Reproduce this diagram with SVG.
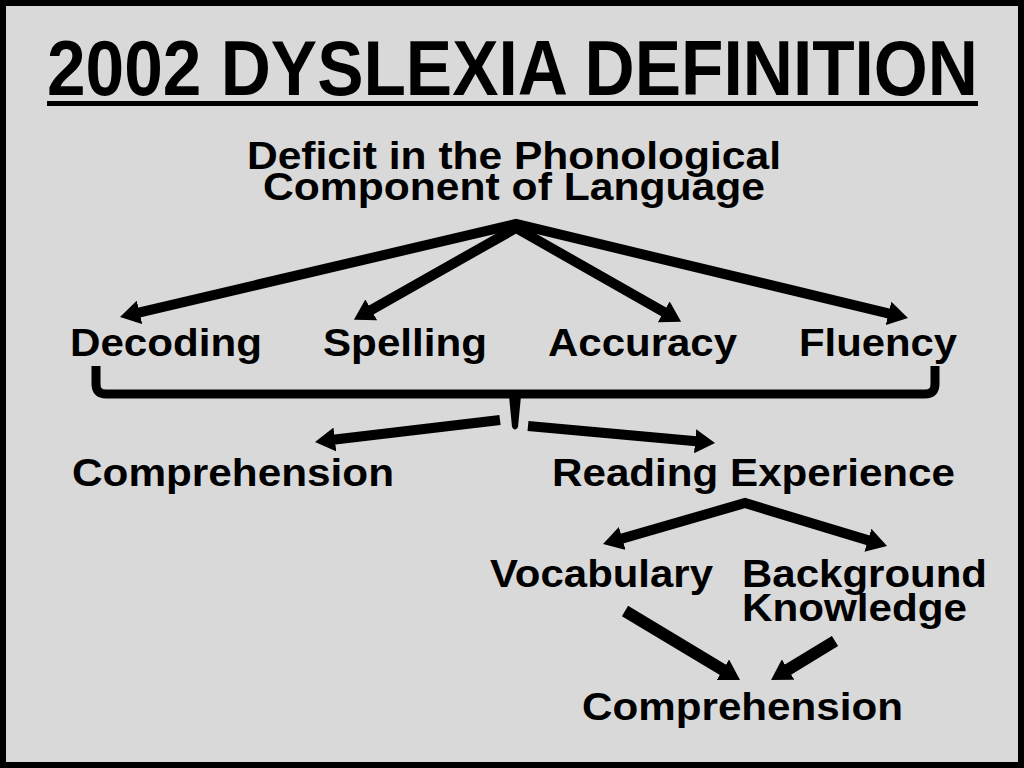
<svg xmlns="http://www.w3.org/2000/svg" width="1024" height="768" viewBox="0 0 1024 768">
<style>
  .t { font-family: "Liberation Sans", Arial, sans-serif; font-weight: bold; fill: #000; font-size: 39px; }
  .title { font-family: "Liberation Sans", Arial, sans-serif; font-weight: bold; fill: #000; font-size: 78px; }
  .arr { fill: none; stroke: #000; stroke-width: 10; stroke-linejoin: miter; stroke-miterlimit: 6; marker-end: url(#ah); }
  .arr2 { fill: none; stroke: #000; stroke-width: 10; stroke-linejoin: miter; stroke-miterlimit: 6; marker-start: url(#ah); marker-end: url(#ah); }
  .thick { stroke-width: 12; }
</style>
<defs>
  <marker id="ah" markerUnits="userSpaceOnUse" viewBox="0 0 20 24" markerWidth="20" markerHeight="24" refX="4" refY="12" orient="auto-start-reverse">
    <path d="M0,0 L20,12 L0,24 Z" fill="#000"/>
  </marker>
</defs>
<rect x="3" y="3" width="1018" height="762" fill="#d9d9d9" stroke="#000" stroke-width="6"/>

<g id="title">
  <text class="title" x="47" y="95" textLength="931" lengthAdjust="spacingAndGlyphs">2002 DYSLEXIA DEFINITION</text>
  <rect x="47" y="101" width="931" height="5" fill="#000"/>
</g>

<g id="node-deficit">
  <text class="t" x="247" y="169" textLength="534" lengthAdjust="spacingAndGlyphs">Deficit in the Phonological</text>
  <text class="t" x="263" y="200" textLength="502" lengthAdjust="spacingAndGlyphs">Component of Language</text>
</g>
<g id="node-decoding"><text class="t" x="70" y="356" textLength="192" lengthAdjust="spacingAndGlyphs">Decoding</text></g>
<g id="node-spelling"><text class="t" x="323" y="356" textLength="164" lengthAdjust="spacingAndGlyphs">Spelling</text></g>
<g id="node-accuracy"><text class="t" x="548" y="356" textLength="189" lengthAdjust="spacingAndGlyphs">Accuracy</text></g>
<g id="node-fluency"><text class="t" x="799" y="356" textLength="158" lengthAdjust="spacingAndGlyphs">Fluency</text></g>
<g id="node-comprehension1"><text class="t" x="72" y="486" textLength="322" lengthAdjust="spacingAndGlyphs">Comprehension</text></g>
<g id="node-reading"><text class="t" x="552" y="486" textLength="403" lengthAdjust="spacingAndGlyphs">Reading Experience</text></g>
<g id="node-vocabulary"><text class="t" x="490" y="587" textLength="223" lengthAdjust="spacingAndGlyphs">Vocabulary</text></g>
<g id="node-background">
  <text class="t" x="742" y="587" textLength="245" lengthAdjust="spacingAndGlyphs">Background</text>
  <text class="t" x="742" y="621" textLength="225" lengthAdjust="spacingAndGlyphs">Knowledge</text>
</g>
<g id="node-comprehension2"><text class="t" x="582" y="720" textLength="321" lengthAdjust="spacingAndGlyphs">Comprehension</text></g>

<g id="connectors">
  <path class="arr2" d="M135.6,313.3 L516,224 L892.4,314.3"/>
  <path class="arr2" d="M367.8,311.8 L516,228 L667.2,313.8"/>
  <path d="M96,366 L96,384 Q96,394 106,394 L925,394 Q935,394 935,384 L935,366" fill="none" stroke="#000" stroke-width="9"/>
  <path d="M509,396 L521,396 L518,427 Q515,432 512,427 Z" fill="#000"/>
  <path class="arr" d="M500,420 L330.9,440"/>
  <path class="arr" d="M528,426 L699.1,441.6"/>
  <path class="arr2" d="M618.4,539.6 L745,503 L871.7,541.4"/>
  <path class="arr thick" d="M625,611 L726.3,671.8"/>
  <path class="arr thick" d="M835,641 L784.7,671.7"/>
</g>
</svg>
